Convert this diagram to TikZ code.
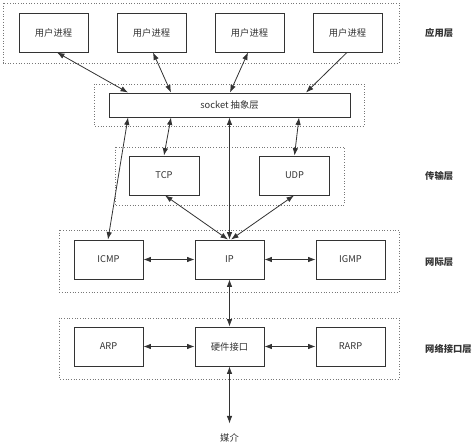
\documentclass[tikz,border=0pt]{standalone}
\usepackage{fontspec}
\setmainfont{Noto Sans CJK SC}
\usetikzlibrary{arrows.meta,calc}
\definecolor{boxc}{HTML}{333333}
\definecolor{dotc}{HTML}{777777}
\definecolor{txtc}{HTML}{333333}
\tikzset{
  proc/.style={draw=boxc,line width=0.9pt,minimum width=69pt,minimum height=39pt,inner sep=0pt,text=txtc,font=\fontsize{9.3}{11}\selectfont},
  layer/.style={draw=dotc,line width=0.7pt,dotted},
  lbl/.style={anchor=west,inner sep=0pt,text=txtc,font=\fontsize{9.3}{11}\selectfont\bfseries},
  conn/.style={draw=boxc,line width=0.8pt,{Latex[length=7.5pt,width=5.5pt]}-{Latex[length=7.5pt,width=5.5pt]}},
  conn1/.style={draw=boxc,line width=0.8pt,-{Latex[length=7.5pt,width=5.5pt]}}
}
\begin{document}
\begin{tikzpicture}[x=1pt,y=-1pt]
\useasboundingbox[fill=white] (0,0) rectangle (474,446);
% layer boxes
\draw[layer] (3,3) rectangle (399,63);
\draw[layer] (94,84) rectangle (364,126);
\draw[layer] (115,147) rectangle (344,205);
\draw[layer] (59,230) rectangle (399,292);
\draw[layer] (59,318) rectangle (399,379);
% nodes
\node[proc] (u1) at (53.5,32.5) {用户进程};
\node[proc] (u2) at (151.5,32.5) {用户进程};
\node[proc] (u3) at (249.5,32.5) {用户进程};
\node[proc] (u4) at (347.5,32.5) {用户进程};
\node[proc,minimum width=241pt,minimum height=24pt] (sock) at (229.5,105) {socket 抽象层};
\node[proc,minimum width=70pt] (tcp) at (164,175.5) {TCP};
\node[proc,minimum width=70pt] (udp) at (294.5,175.5) {UDP};
\node[proc] (icmp) at (108.5,259.5) {ICMP};
\node[proc] (ip) at (229.5,259.5) {IP};
\node[proc] (igmp) at (350.5,259.5) {IGMP};
\node[proc] (arp) at (108.5,346.5) {ARP};
\node[proc] (hw) at (229.5,346.5) {硬件接口};
\node[proc] (rarp) at (350.5,346.5) {RARP};
\node[inner sep=0pt,text=txtc,font=\fontsize{9.3}{11}\selectfont] (media) at (229.5,438) {媒介};
% layer labels
\node[lbl] (l1) at (425,33) {应用层};
\node[lbl] (l2) at (425,176) {传输层};
\node[lbl] (l3) at (425,262) {网际层};
\node[lbl] (l4) at (425,349) {网络接口层};
% connectors
\draw[conn] ([xshift=3.5pt]u1.south) -- ([xshift=-101.5pt]sock.north);
\draw[conn] ([xshift=1.5pt]u2.south) -- ([xshift=-58.5pt]sock.north);
\draw[conn] ([xshift=-1.5pt]u3.south) -- ([xshift=0.5pt]sock.north);
\draw[conn1] ([xshift=-0.5pt]u4.south) -- ([xshift=76.5pt]sock.north);
\draw[conn] ([xshift=-101.5pt]sock.south) -- ([xshift=-0.5pt]icmp.north);
\draw[conn] ([xshift=-58.5pt]sock.south) -- (tcp.north);
\draw[conn] (sock.south) -- (ip.north);
\draw[conn] ([xshift=69.5pt]sock.south) -- (udp.north);
\draw[conn] ([xshift=1pt]tcp.south) -- ([xshift=-1.5pt]ip.north);
\draw[conn] ([xshift=-0.5pt]udp.south) -- ([xshift=1.5pt]ip.north);
\draw[conn] (icmp.east) -- (ip.west);
\draw[conn] (ip.east) -- (igmp.west);
\draw[conn] (ip.south) -- (hw.north);
\draw[conn] (arp.east) -- (hw.west);
\draw[conn] (hw.east) -- (rarp.west);
\draw[conn,shorten >=10pt] (hw.south) -- (media.north);
\end{tikzpicture}
\end{document}
